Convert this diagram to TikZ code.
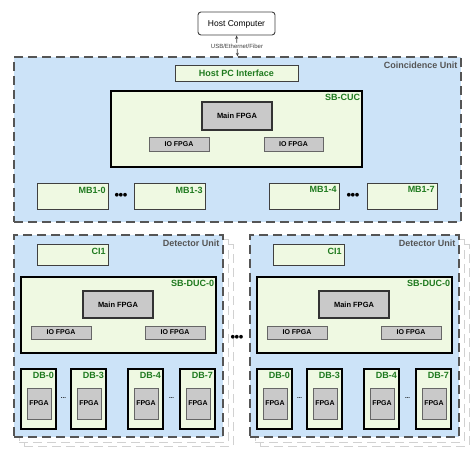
\documentclass[tikz,border=0pt]{standalone}
\usepackage{fontspec}
\setmainfont{Liberation Sans}
\usetikzlibrary{arrows.meta}
\definecolor{ublue}{HTML}{CCE3F8}
\definecolor{bgreen}{HTML}{EFF9E2}
\definecolor{fgray}{HTML}{C9C9C9}
\definecolor{tgreen}{HTML}{1F7A1F}
\definecolor{tgray}{HTML}{555555}
\tikzset{
  fs/.style={font=\fontsize{#1}{#1}\selectfont},
  fsb/.style={font=\bfseries\fontsize{#1}{#1}\selectfont},
  unitbox/.style={draw=tgray, line width=1.3pt, dash pattern=on 9pt off 5pt, fill=ublue, inner sep=0pt},
  shadowbox/.style={draw=black!18, line width=1pt, dash pattern=on 9pt off 5pt, fill=white, inner sep=0pt},
  boardbox/.style={draw=black, line width=1.5pt, fill=bgreen, inner sep=0pt},
  smallboard/.style={draw=black!75, line width=0.9pt, fill=bgreen, inner sep=0pt},
  mainfpga/.style={draw=black!80, line width=1.3pt, fill=fgray, inner sep=0pt, fsb=7.5},
  iofpga/.style={draw=black!60, line width=0.9pt, fill=fgray, inner sep=0pt, fsb=7},
  boardlabel/.style={text=tgreen, fsb=9, anchor=north east, inner xsep=2.5pt, inner ysep=4pt, text depth=0pt},
  unitlabel/.style={text=tgray, fsb=9, anchor=north east, inner xsep=4pt, inner ysep=5pt, text depth=0pt},
  bigdots/.style={fsb=13, inner sep=0pt},
  smalldots/.style={fsb=6, inner sep=0pt},
}
% name, style, x1, y1, x2, y2, text  (pixel coordinates, y downwards)
\newcommand\bxnode[7]{%
  \node (#1) [#2, shape=rectangle, anchor=center, text depth=0pt, minimum width={(#5)-(#3)}, minimum height={(#6)-(#4)}]
    at ({((#3)+(#5))/2},{-((#4)+(#6))/2}) {#7};}
\begin{document}
\begin{tikzpicture}[x=1pt,y=1pt]
\useasboundingbox (0,0) rectangle (474,-462);
% Host computer
\bxnode{host}{draw=black!75, line width=0.9pt, rounded corners=3pt, fill=white, fs=8.5, inner sep=0pt}{198}{12}{275}{35}{Host Computer}
% Coincidence unit
\bxnode{cu}{unitbox}{14}{57}{461}{222}{}
\node (cul) [unitlabel] at (cu.north east) {Coincidence Unit};
\draw[{Stealth[open,length=3.5pt,width=3pt]}-{Stealth[open,length=3.5pt,width=3pt]}, line width=0.7pt, black!75] (host.south) -- (cu.north)
  node (link) [midway, fill=white, fs=6, inner sep=0.5pt] {USB/Ethernet/Fiber};
\bxnode{hpi}{smallboard, text=tgreen, fsb=9}{175}{65}{298}{81}{Host PC Interface}
\bxnode{sbcuc}{boardbox}{111}{91}{362}{167}{}
\node (sbcucl) [boardlabel] at (sbcuc.north east) {SB-CUC};
\bxnode{cmain}{mainfpga}{202}{102}{272}{130}{Main FPGA}
\bxnode{cio1}{iofpga}{149}{137}{209}{151}{IO FPGA}
\bxnode{cio2}{iofpga}{264}{137}{323}{151}{IO FPGA}
\foreach \nm/\xa/\xb in {MB1-0/37/108, MB1-3/134/205, MB1-4/269/339, MB1-7/367/437}{
  \bxnode{\nm}{smallboard}{\xa}{183}{\xb}{209}{}
  \node (\nm l) [boardlabel] at (\nm.north east) {\nm};
}
\node (cdots1) [bigdots] at (121,-196) {\textbullet\hspace{-0.5pt}\textbullet\hspace{-0.5pt}\textbullet};
\node (cdots2) [bigdots] at (353,-196) {\textbullet\hspace{-0.5pt}\textbullet\hspace{-0.5pt}\textbullet};
% Detector units
\foreach \dx/\p in {0/L,236/R}{
  \begin{scope}[xshift=\dx pt]
    \bxnode{\p sh2}{shadowbox}{24}{245}{233}{446}{}
    \bxnode{\p sh1}{shadowbox}{19}{240}{228}{442}{}
    \bxnode{\p du}{unitbox}{14}{235}{223}{437}{}
    \node (\p dul) [unitlabel] at (\p du.north east) {Detector Unit};
    \bxnode{\p ci}{smallboard}{37}{244}{108}{265}{}
    \node (\p cil) [boardlabel] at (\p ci.north east) {CI1};
    \bxnode{\p sb}{boardbox}{21}{277}{216}{353}{}
    \node (\p sbl) [boardlabel] at (\p sb.north east) {SB-DUC-0};
    \bxnode{\p main}{mainfpga}{83}{291}{153}{318}{Main FPGA}
    \bxnode{\p io1}{iofpga}{31}{326}{91}{339}{IO FPGA}
    \bxnode{\p io2}{iofpga}{145}{326}{205}{339}{IO FPGA}
    \foreach \nm/\xa in {DB-0/21, DB-3/71, DB-4/128, DB-7/180}{
      \bxnode{\p\nm}{boardbox, line width=1.3pt}{\xa}{369}{\xa+35}{429}{}
      \node (\p\nm l) [boardlabel, inner ysep=3.5pt] at (\p\nm.north east) {\nm};
      \bxnode{\p\nm f}{draw=black!60, line width=0.8pt, fill=fgray, inner sep=0pt, fsb=7}{\xa+6}{388}{\xa+30}{419}{FPGA}
    }
    \node (\p d1) [smalldots] at (63.5,-398) {...};
    \node (\p d2) [smalldots] at (171.5,-398) {...};
  \end{scope}
}
\node (udots) [bigdots] at (237,-338) {\textbullet\hspace{-0.5pt}\textbullet\hspace{-0.5pt}\textbullet};
\end{tikzpicture}
\end{document}
